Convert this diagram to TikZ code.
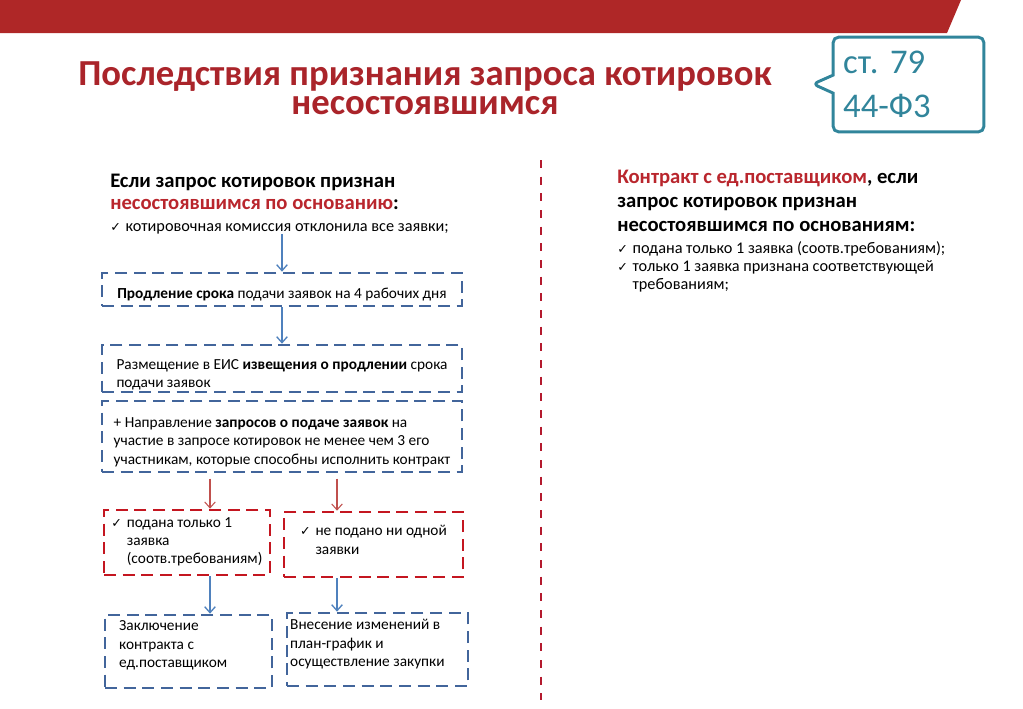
\documentclass[tikz,border=0pt]{standalone}
\usepackage{fontspec}
\setmainfont{Carlito}
\newfontfamily\symfont{DejaVu Sans}
\usetikzlibrary{positioning,shapes.callouts,arrows.meta}
\frenchspacing

\definecolor{bannerred}{RGB}{175,39,39}
\definecolor{titlered}{RGB}{170,36,42}
\definecolor{headred}{RGB}{185,38,45}
\definecolor{lawteal}{RGB}{49,133,155}
\definecolor{dashblue}{RGB}{66,101,155}
\definecolor{dashred}{RGB}{196,22,32}
\definecolor{splitred}{RGB}{180,26,46}
\definecolor{arrowblue}{RGB}{79,129,189}
\definecolor{arrowred}{RGB}{192,80,77}

\newcommand{\chk}{\makebox[11.5pt][l]{\symfont\fontsize{9.5}{9.5}\selectfont ✓}}

\tikzstyle{bluebox}=[rectangle,draw=dashblue,line width=2pt,dash pattern=on 9pt off 5pt,align=left,inner sep=0pt,font=\fontsize{11.5}{13.75}\selectfont]
\tikzstyle{redbox}=[bluebox,draw=dashred]
\tikzstyle{headtext}=[align=left,inner sep=0pt,font=\bfseries\fontsize{15.5}{16.5}\selectfont]
\tikzstyle{itemtext}=[align=left,inner sep=0pt,font=\fontsize{12.2}{13.5}\selectfont]
\tikzstyle{barrow}=[->,draw=arrowblue,line width=1pt]
\tikzstyle{rarrow}=[->,draw=arrowred,line width=0.8pt]

\begin{document}
\begin{tikzpicture}[x=0.75pt,y=-0.75pt,>={Straight Barb[length=4.5pt,width=8pt]}]
\useasboundingbox (0,0) rectangle (1023,708);
% banner and title
\fill[bannerred] (0,0) -- (961,0) -- (947,33) -- (0,33) -- cycle;
\node(title)[font=\bfseries\fontsize{27.5}{22}\selectfont,text=titlered,align=center] at (425,88.5) {Последствия признания запроса котировок\\несостоявшимся};
\node(art)[rectangle callout,draw=lawteal,line width=2.2pt,rounded corners=4pt,minimum width=113pt,minimum height=71pt,inner sep=1pt,callout absolute pointer={(813,84)},callout pointer width=13.5pt,text=lawteal,text width=98pt,align=left,font=\fontsize{26}{33}\selectfont] at (908.5,84.5) {ст. 79\\44-Ф3};
% left column
\node(cond)[headtext,anchor=north west] at (110,174) {Если запрос котировок признан\\\textcolor{headred}{несостоявшимся по основанию}:};
\node(crit)[itemtext,anchor=base west] at (110,231) {\chk котировочная комиссия отклонила все заявки;};
\node(ext)[bluebox,minimum width=270pt,minimum height=24.75pt] at (282,289.5) {\rule{0pt}{15pt}\textbf{Продление срока} подачи заявок на 4 рабочих дня};
\node(eis)[bluebox,minimum width=270pt,minimum height=35.25pt] at (282,368.5) {\rule{0pt}{17pt}Размещение в ЕИС \textbf{извещения о продлении} срока\\подачи заявок};
\node(req)[bluebox,minimum width=270pt,minimum height=53.25pt] at (282,436.5) {\rule{0pt}{16pt}+ Направление \textbf{запросов о подаче заявок} на\\участие в запросе котировок не менее чем 3 его\\участникам, которые способны исполнить контракт};
\node(one)[redbox,minimum width=124.5pt,minimum height=48.75pt] at (187,542.5) {\chk подана только 1\\\hspace*{11.5pt}заявка\\\hspace*{11.5pt}(соотв.требованиям)\rule[-3pt]{0pt}{0pt}};
\node(none)[redbox,minimum width=134.25pt,minimum height=48.75pt] at (373.5,544.5) {\chk не подано ни одной\\\hspace*{11.5pt}заявки\rule[-7pt]{0pt}{0pt}};
\node(contract)[bluebox,minimum width=125.25pt,minimum height=54.75pt,text width=104pt,align=flush left] at (188.5,651.5) {Заключение\\контракта с\\ед.поставщиком\rule[-11pt]{0pt}{0pt}};
\node(plan)[bluebox,minimum width=135.75pt,minimum height=54.75pt,text width=131pt,align=flush left] at (377.5,649.5) {Внесение изменений в\\план-график и\\осуществление закупки\rule[-10pt]{0pt}{0pt}};
\coordinate(lcol) at (210,0);
\coordinate(rcol) at (337,0);
\draw[barrow](crit.south -| ext.north)--(ext.north);
\draw[barrow](ext)--(eis);
\draw[rarrow,shorten <=4pt](req.south -| lcol)--(one.north -| lcol);
\draw[rarrow,shorten <=4pt](req.south -| rcol)--(none.north -| rcol);
\draw[barrow](one.south -| lcol)--(contract.north -| lcol);
\draw[barrow](none.south -| rcol)--(plan.north -| rcol);
% divider
\draw[splitred,line width=1.8pt,dash pattern=on 6pt off 6.5pt](541,160)--(541,700);
% right column
\node(sole)[headtext,anchor=north west,font=\bfseries\fontsize{15.5}{18}\selectfont] at (617,170) {\textcolor{headred}{Контракт с ед.поставщиком}, если\\запрос котировок признан\\несостоявшимся по основаниям:};
\node(grounds)[itemtext,anchor=north west] at (617,241) {\chk подана только 1 заявка (соотв.требованиям);\\\chk только 1 заявка признана соответствующей\\\hspace*{11.5pt}требованиям;};
\end{tikzpicture}
\end{document}
